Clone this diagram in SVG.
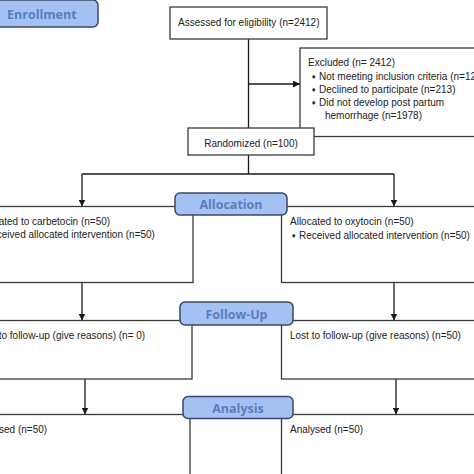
<svg xmlns="http://www.w3.org/2000/svg" width="474" height="474" viewBox="0 0 474 474">
<defs>
<marker id="ah" viewBox="0 0 10 10" refX="10" refY="5" markerWidth="7" markerHeight="7" markerUnits="userSpaceOnUse" orient="auto">
<path d="M0,0 L10,5 L0,10 z" fill="#1a1a1a"/>
</marker>
<style>
.box{fill:#fff;stroke:#3a3a3a;stroke-width:1.3}
.lab{fill:#a3c1f3;stroke:#3b4863;stroke-width:1.5}
.lt{font-family:"Open Sans","Noto Sans",sans-serif;font-weight:bold;font-size:12.5px;fill:#5a7dbd;text-anchor:middle}
.t{font-family:"Liberation Sans",Arial,sans-serif;font-size:10px;fill:#222}
.b{font-family:"DejaVu Sans",sans-serif;font-size:6px;fill:#222}
.c{fill:none;stroke:#1a1a1a;stroke-width:1.3}
.ca{fill:none;stroke:#1a1a1a;stroke-width:1.3;marker-end:url(#ah)}
</style>
</defs>
<rect width="474" height="474" fill="#fff"/>
<g id="connectors">
<line class="c" x1="248.5" y1="39" x2="248.5" y2="128"/>
<line class="ca" x1="248.5" y1="84" x2="300" y2="84"/>
<line class="c" x1="248.5" y1="155" x2="248.5" y2="174"/>
<line class="c" x1="82" y1="174" x2="394" y2="174"/>
<line class="ca" x1="82" y1="174" x2="82" y2="206.5"/>
<line class="ca" x1="394" y1="174" x2="394" y2="206.5"/>
<line class="ca" x1="82" y1="282.5" x2="82" y2="320.5"/>
<line class="ca" x1="394" y1="282.5" x2="394" y2="320.5"/>
<line class="ca" x1="85" y1="379" x2="85" y2="414.5"/>
<line class="ca" x1="396" y1="379" x2="396" y2="414.5"/>
</g>
<g id="assessed">
<rect class="box" x="170" y="7" width="157" height="32"/>
<text class="t" x="178" y="25.5">Assessed for eligibility (n=2412)</text>
</g>
<g id="excluded">
<rect class="box" x="300" y="48" width="200" height="88.5"/>
<text class="t" x="308" y="65.5">Excluded (n= 2412)</text>
<text class="b" x="311" y="79">♦</text>
<text class="t" x="319" y="79.5">Not meeting inclusion criteria (n=121)</text>
<text class="b" x="311" y="92">♦</text>
<text class="t" x="319" y="92.5">Declined to participate (n=213)</text>
<text class="b" x="311" y="105">♦</text>
<text class="t" x="319" y="105.5">Did not develop post partum</text>
<text class="t" x="325" y="118.5">hemorrhage (n=1978)</text>
</g>
<g id="randomized">
<rect class="box" x="188" y="128" width="126" height="27"/>
<text class="t" x="251" y="146.5" text-anchor="middle">Randomized (n=100)</text>
</g>
<g id="alloc-left">
<rect class="box" x="-31" y="206.5" width="224" height="76"/>
<text class="t" x="-23" y="224.5">Allocated to carbetocin (n=50)</text>
<text class="b" x="-20" y="237.5">♦</text>
<text class="t" x="-16" y="238">Received allocated intervention (n=50)</text>
</g>
<g id="alloc-right">
<rect class="box" x="281.5" y="206.5" width="230" height="76"/>
<text class="t" x="290" y="225">Allocated to oxytocin (n=50)</text>
<text class="b" x="291" y="238">♦</text>
<text class="t" x="299" y="238.5">Received allocated intervention (n=50)</text>
</g>
<g id="follow-left">
<rect class="box" x="-31" y="320.5" width="223" height="58.5"/>
<text class="t" x="-23" y="338.5">Lost to follow-up (give reasons) (n= 0)</text>
</g>
<g id="follow-right">
<rect class="box" x="281.5" y="320.5" width="230" height="58.5"/>
<text class="t" x="290" y="338.5">Lost to follow-up (give reasons) (n=50)</text>
</g>
<g id="analysis-left">
<rect class="box" x="-31" y="414.5" width="221" height="100"/>
<text class="t" x="-26" y="432.5">Analysed (n=50)</text>
</g>
<g id="analysis-right">
<rect class="box" x="281.5" y="414.5" width="230" height="100"/>
<text class="t" x="290" y="432.5">Analysed (n=50)</text>
</g>
<g id="label-enrollment">
<rect class="lab" x="-8" y="0" width="106" height="27" rx="5"/>
<text class="lt" x="7" y="19" style="text-anchor:start">Enrollment</text>
</g>
<g id="label-allocation">
<rect class="lab" x="175" y="193" width="112" height="22" rx="5"/>
<text class="lt" x="231" y="209">Allocation</text>
</g>
<g id="label-followup">
<rect class="lab" x="180" y="302" width="113" height="23" rx="5"/>
<text class="lt" x="236.5" y="318.5">Follow-Up</text>
</g>
<g id="label-analysis">
<rect class="lab" x="183" y="396.5" width="110" height="22" rx="5"/>
<text class="lt" x="238" y="412.5">Analysis</text>
</g>
</svg>
